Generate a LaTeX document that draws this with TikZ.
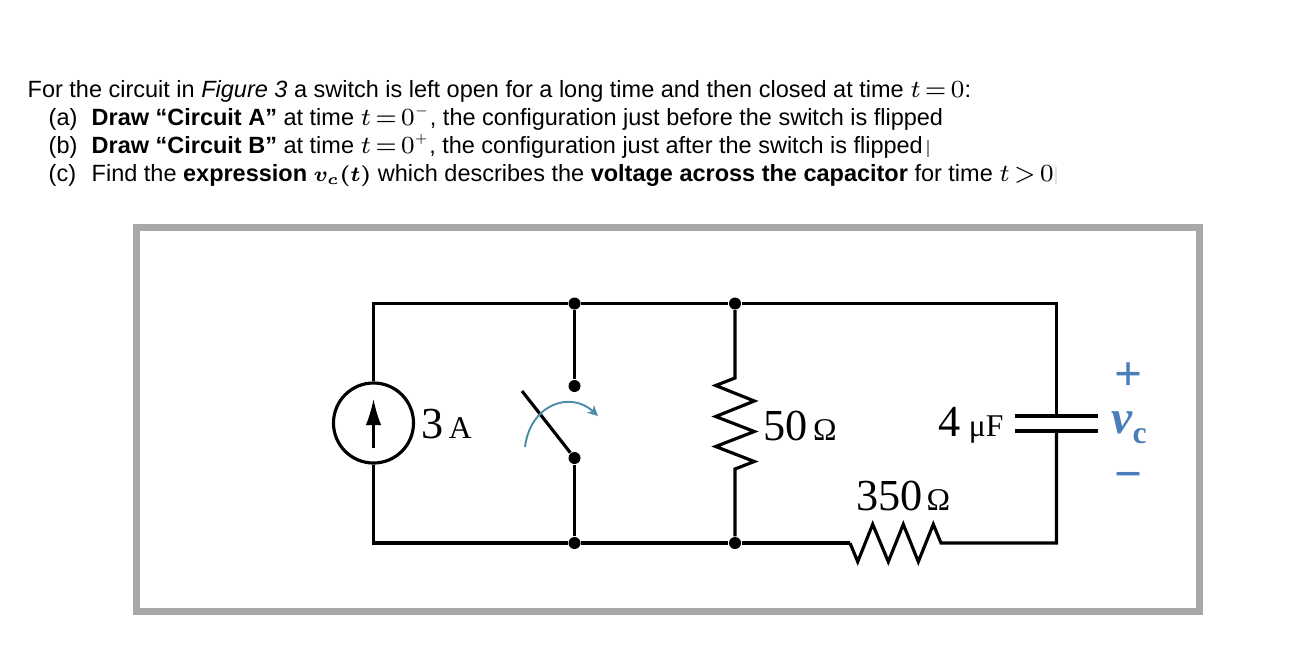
\documentclass[tikz,border=0pt]{standalone}
\usepackage{amsmath}
\usepackage{fontspec}
\usetikzlibrary{arrows.meta}
\setmainfont{Liberation Sans}
\newfontfamily\circfont{Liberation Serif}
\DeclareMathSizes{6.68}{6.68}{4.2}{4}
\definecolor{framegray}{HTML}{A8A8A8}
\definecolor{vblue}{HTML}{4A7EBB}
\definecolor{arcteal}{HTML}{4D8DA8}
\tikzset{
  txt/.style={anchor=base west,inner sep=0pt,font=\fontsize{6.68}{8}\selectfont},
  wire/.style={line width=0.9pt},
  dot/.style={circle,fill=black,inner sep=0pt,minimum size=0.12cm},
  val/.style={inner sep=0pt,anchor=base west,font=\circfont\fontsize{12.6}{14}\selectfont},
  vmark/.style={inner sep=0pt,anchor=base,text=vblue,font=\circfont\bfseries\fontsize{14}{16}\selectfont},
  cursor/.style={line width=0.3pt}
}
\newcommand{\unitsz}{\fontsize{9}{10}\selectfont}
\newcommand{\qlabel}[1]{\makebox[0.43cm][l]{#1}}
\begin{document}
\begin{tikzpicture}[x=0.01cm,y=-0.01cm]
\thickmuskip=2.5mu
\useasboundingbox (0,0) rectangle (1300,660);
% question text
\node[txt] (intro) at (27,97) {For the circuit in \textit{Figure 3} a switch is left open for a long time and then closed at time $t=0$:};
\node[txt] (parta) at (48,125) {\qlabel{(a)}\textbf{Draw “Circuit A”} at time $t=0^{\scalebox{0.7}{$\scriptstyle-$}}$, the configuration just before the switch is flipped};
\node[txt] (partb) at (48,153) {\qlabel{(b)}\textbf{Draw “Circuit B”} at time $t=0^{\scalebox{0.7}{$\scriptstyle+$}}$, the configuration just after the switch is flipped};
\node[txt] (partc) at (48,181) {\qlabel{(c)}Find the \textbf{expression \scalebox{0.86}{$\boldsymbol{v_c(t)}$}} which describes the \textbf{voltage across the capacitor} for time $t>0$};
\draw[cursor,black!45] (928,140) -- (928,157);
\draw[cursor,black!12] (1056,167) -- (1056,184);
% frame
\node[draw=framegray,line width=0.07cm,minimum width=10.63cm,minimum height=3.84cm,inner sep=0pt] (frame) at (668,419.5) {};
% corners and junctions
\coordinate (tl) at (373.5,303.5);
\coordinate (tr) at (1056.5,303.5);
\coordinate (bl) at (373.5,543);
\coordinate (br) at (1056.5,543);
\node[dot] (jt1) at (574.5,303.5) {};
\node[dot] (jt2) at (735,303.5) {};
\node[dot] (jb1) at (574.5,543) {};
\node[dot] (jb2) at (735,543) {};
% source
\node[draw,circle,wire,minimum size=0.8cm,inner sep=0pt] (src) at (373.5,423) {};
\coordinate (srca) at (373.5,448);
\coordinate (srcb) at (373.5,399);
\draw[line width=0.6pt,-{Latex[length=7.4pt,width=4.4pt]}] (srca) -- (srcb);
\node[val] (srclab) at (421,438) {3\kern0.05cm{\unitsz A}};
\draw[wire] (src) -- (tl) -- (jt1) -- (jt2) -- (tr) -- (1056.5,416);
\draw[wire] (src) -- (bl) -- (jb1) -- (jb2) -- (850,543);
% switch
\node[dot] (swt) at (574.5,386) {};
\node[dot] (swb) at (574.5,458) {};
\coordinate (blade) at (522,391);
\draw[wire] (jt1) -- (swt);
\draw[wire] (swb) -- (jb1);
\draw[wire] (swb) -- (blade);
\coordinate (arcs) at (525,447);
\coordinate (arce) at (598,416);
\draw[arcteal,line width=0.55pt,-{Stealth[length=3pt,width=3pt]}] (arcs) .. controls (530,405) and (570,390) .. (arce);
% 50 ohm
\coordinate (rtop) at (735,378);
\coordinate (rbot) at (735,469);
\draw[wire] (jt2) -- (rtop) -- ++(-19.3,7.5) -- ++(38.6,15.5) -- ++(-38.6,15.5) -- ++(38.6,15) -- ++(-38.6,15) -- ++(38.6,15) -- (rbot) -- (jb2);
\node[val] (rlab) at (763,440) {50\kern0.05cm{\unitsz\char"03A9}};
% 350 ohm
\draw[wire] (850,543) -- ++(7.7,18.7) -- ++(15,-37.4) -- ++(15.6,37.4) -- ++(15,-37.4) -- ++(15,37.4) -- ++(15,-37.4) -- (941,543) -- (br) -- (1056.5,431);
\node[val] (rblab) at (855.5,510.5) {350\kern0.04cm{\unitsz\char"03A9}};
% capacitor
\coordinate (capal) at (1015,416);
\coordinate (capar) at (1097.5,416);
\coordinate (capbl) at (1015,431);
\coordinate (capbr) at (1097.5,431);
\draw[wire] (capal) -- (capar);
\draw[wire] (capbl) -- (capbr);
\node[val] (caplab) at (938,436.5) {4\kern0.08cm{\unitsz\char"03BC F}};
% voltage marks
\node[vmark] (plus) at (1129,390) {+};
\node[vmark] (vc) at (1129,433) {\fontsize{13.5}{14}\selectfont\itshape v\raisebox{-0.1cm}{\upshape\fontsize{9}{10}\selectfont c}};
\node[vmark] (minus) at (1129,490) {\char"2212};
\end{tikzpicture}
\end{document}
